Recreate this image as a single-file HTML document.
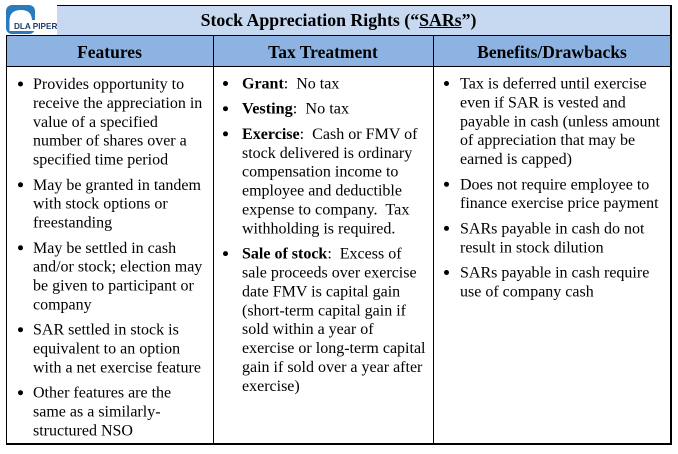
<!DOCTYPE html>
<html>
<head>
<meta charset="utf-8">
<style>
  html,body{margin:0;padding:0;background:#fff;}
  body{width:678px;height:454px;position:relative;overflow:hidden;font-family:"Liberation Serif","Noto Serif CJK SC","DejaVu Serif",serif;color:#000;}
  .abs{position:absolute;}
  .line{position:absolute;background:#000;}
  .title{position:absolute;left:6px;width:665px;top:8px;text-align:center;font-weight:bold;font-size:17.8px;line-height:24px;white-space:nowrap;}
  .hdr{position:absolute;top:40px;text-align:center;font-weight:bold;font-size:17.5px;line-height:24px;white-space:nowrap;}
  svg text.t{font-family:"Liberation Serif","Noto Serif CJK SC","DejaVu Serif",serif;font-size:16px;fill:#000;white-space:pre;}
</style>
</head>
<body>
  <!-- backgrounds -->
  <div class="abs" style="left:57px;top:5px;width:614px;height:31px;background:#c6d9f1;"></div>
  <div class="abs" style="left:6px;top:36px;width:665px;height:30px;background:#8db3e2;"></div>

  <!-- logo -->
  <svg class="abs" style="left:0;top:0" width="58" height="36" viewBox="0 0 58 36">
    <rect x="0" y="0" width="57" height="36" fill="#fff"/>
    <rect x="6" y="5" width="29" height="29" rx="6" ry="6" fill="#2a7bbd"/>
    <path d="M9.5 31 L9.5 21 Q9.5 10 21 10 Q32 10 32 21 L32 31 Z" fill="#fff"/>
    <rect x="32" y="20" width="25" height="11" fill="#fff"/>
    <text x="14" y="29" font-family="Liberation Sans, Arial, sans-serif" font-weight="bold" font-size="8.2" fill="#1e3f6e">DLA PIPER</text>
  </svg>

  <!-- borders -->
  <div class="line" style="left:57px;top:5px;width:615px;height:1px;"></div>
  <div class="line" style="left:6px;top:35px;width:666px;height:1px;"></div>
  <div class="line" style="left:6px;top:66px;width:666px;height:1px;"></div>
  <div class="line" style="left:6px;top:443px;width:666px;height:2px;"></div>
  <div class="line" style="left:6px;top:35px;width:1px;height:410px;"></div>
  <div class="line" style="left:670px;top:5px;width:2px;height:440px;"></div>
  <div class="line" style="left:213px;top:35px;width:1px;height:410px;"></div>
  <div class="line" style="left:433px;top:35px;width:1px;height:410px;"></div>

  <!-- title -->
  <div class="title">Stock Appreciation Rights (“<u>SARs</u>”)</div>

  <!-- headers -->
  <div class="hdr" style="left:6px;width:207px;">Features</div>
  <div class="hdr" style="left:213px;width:220px;">Tax Treatment</div>
  <div class="hdr" style="left:433px;width:238px;">Benefits/Drawbacks</div>

  <svg class="abs" style="left:0;top:0" width="678" height="454" viewBox="0 0 678 454">
    <!-- bullets -->
    <g fill="#000">
      <circle cx="20.5" cy="84" r="2.5"/>
      <circle cx="20.5" cy="184.8" r="2.5"/>
      <circle cx="20.5" cy="247.8" r="2.5"/>
      <circle cx="20.5" cy="329.7" r="2.5"/>
      <circle cx="20.5" cy="392.7" r="2.5"/>

      <circle cx="225.5" cy="83.5" r="2.5"/>
      <circle cx="225.5" cy="108.7" r="2.5"/>
      <circle cx="225.5" cy="133.9" r="2.5"/>
      <circle cx="225.5" cy="253.6" r="2.5"/>

      <circle cx="446.5" cy="83.5" r="2.5"/>
      <circle cx="446.5" cy="184.3" r="2.5"/>
      <circle cx="446.5" cy="228.4" r="2.5"/>
      <circle cx="446.5" cy="272.5" r="2.5"/>
    </g>

    <!-- column 1 -->
    <text class="t" x="33" y="89">Provides opportunity to</text>
    <text class="t" x="33" y="107.9">receive the appreciation in</text>
    <text class="t" x="33" y="126.8">value of a specified</text>
    <text class="t" x="33" y="145.7">number of shares over a</text>
    <text class="t" x="33" y="164.6">specified time period</text>
    <text class="t" x="33" y="189.8">May be granted in tandem</text>
    <text class="t" x="33" y="208.7">with stock options or</text>
    <text class="t" x="33" y="227.6">freestanding</text>
    <text class="t" x="33" y="252.8">May be settled in cash</text>
    <text class="t" x="33" y="271.7">and/or stock; election may</text>
    <text class="t" x="33" y="290.6">be given to participant or</text>
    <text class="t" x="33" y="309.5">company</text>
    <text class="t" x="33" y="334.7">SAR settled in stock is</text>
    <text class="t" x="33" y="353.6">equivalent to an option</text>
    <text class="t" x="33" y="372.5">with a net exercise feature</text>
    <text class="t" x="33" y="397.7">Other features are the</text>
    <text class="t" x="33" y="416.6">same as a similarly-</text>
    <text class="t" x="33" y="435.5">structured NSO</text>

    <!-- column 2 -->
    <text class="t" x="242" y="88.5"><tspan font-weight="bold">Grant</tspan>:&#160; No tax</text>
    <text class="t" x="242" y="113.7"><tspan font-weight="bold">Vesting</tspan>:&#160; No tax</text>
    <text class="t" x="242" y="138.9"><tspan font-weight="bold">Exercise</tspan>:&#160; Cash or FMV of</text>
    <text class="t" x="242" y="157.8">stock delivered is ordinary</text>
    <text class="t" x="242" y="176.7">compensation income to</text>
    <text class="t" x="242" y="195.6">employee and deductible</text>
    <text class="t" x="242" y="214.5">expense to company.&#160; Tax</text>
    <text class="t" x="242" y="233.4">withholding is required.</text>
    <text class="t" x="242" y="258.6"><tspan font-weight="bold">Sale of stock</tspan>:&#160; Excess of</text>
    <text class="t" x="242" y="277.5">sale proceeds over exercise</text>
    <text class="t" x="242" y="296.4">date FMV is capital gain</text>
    <text class="t" x="242" y="315.3">(short-term capital gain if</text>
    <text class="t" x="242" y="334.2">sold within a year of</text>
    <text class="t" x="242" y="353.1">exercise or long-term capital</text>
    <text class="t" x="242" y="372">gain if sold over a year after</text>
    <text class="t" x="242" y="390.9">exercise)</text>

    <!-- column 3 -->
    <text class="t" x="460" y="88.5">Tax is deferred until exercise</text>
    <text class="t" x="460" y="107.4">even if SAR is vested and</text>
    <text class="t" x="460" y="126.3">payable in cash (unless amount</text>
    <text class="t" x="460" y="145.2">of appreciation that may be</text>
    <text class="t" x="460" y="164.1">earned is capped)</text>
    <text class="t" x="460" y="189.3">Does not require employee to</text>
    <text class="t" x="460" y="208.2">finance exercise price payment</text>
    <text class="t" x="460" y="233.4">SARs payable in cash do not</text>
    <text class="t" x="460" y="252.3">result in stock dilution</text>
    <text class="t" x="460" y="277.5">SARs payable in cash require</text>
    <text class="t" x="460" y="296.4">use of company cash</text>
  </svg>

<script>
(function(){
  var R={' ':250,'\u00a0':250,'(':333,')':333,'-':333,'/':278,';':278,':':278,'.':250,',':250,
    a:444,b:500,c:444,d:500,e:444,f:333,g:500,h:500,i:278,j:278,k:500,l:278,m:778,n:500,o:500,p:500,q:500,r:333,s:389,t:278,u:500,v:500,w:722,x:500,y:500,z:444,
    A:722,B:667,C:667,D:722,E:611,F:556,G:722,H:722,I:333,J:389,K:722,L:611,M:889,N:722,O:722,P:556,Q:722,R:667,S:556,T:611,U:722,V:722,W:944,X:722,Y:722,Z:611};
  var Bd={' ':250,'\u00a0':250,':':333,a:500,b:556,c:444,d:556,e:444,f:333,g:500,h:556,i:278,k:556,l:278,n:556,o:500,r:444,s:389,t:333,E:667,G:778,S:556,V:722,x:500};
  function w(str,tab){var s=0;for(var i=0;i<str.length;i++){var ch=str.charAt(i);s+=(tab[ch]!==undefined?tab[ch]:(R[ch]!==undefined?R[ch]:500));}return s;}
  var list=document.querySelectorAll('text.t');
  for(var k=0;k<list.length;k++){
    var t=list[k],total=0,nodes=t.childNodes;
    for(var j=0;j<nodes.length;j++){
      var n=nodes[j];
      if(n.nodeType===3){total+=w(n.nodeValue,R);}
      else{total+=w(n.textContent,(n.getAttribute&&n.getAttribute('font-weight')==='bold')?Bd:R);}
    }
    t.setAttribute('textLength',(total*16/1000).toFixed(2));
    t.setAttribute('lengthAdjust','spacingAndGlyphs');
  }
})();
</script>
</body>
</html>
